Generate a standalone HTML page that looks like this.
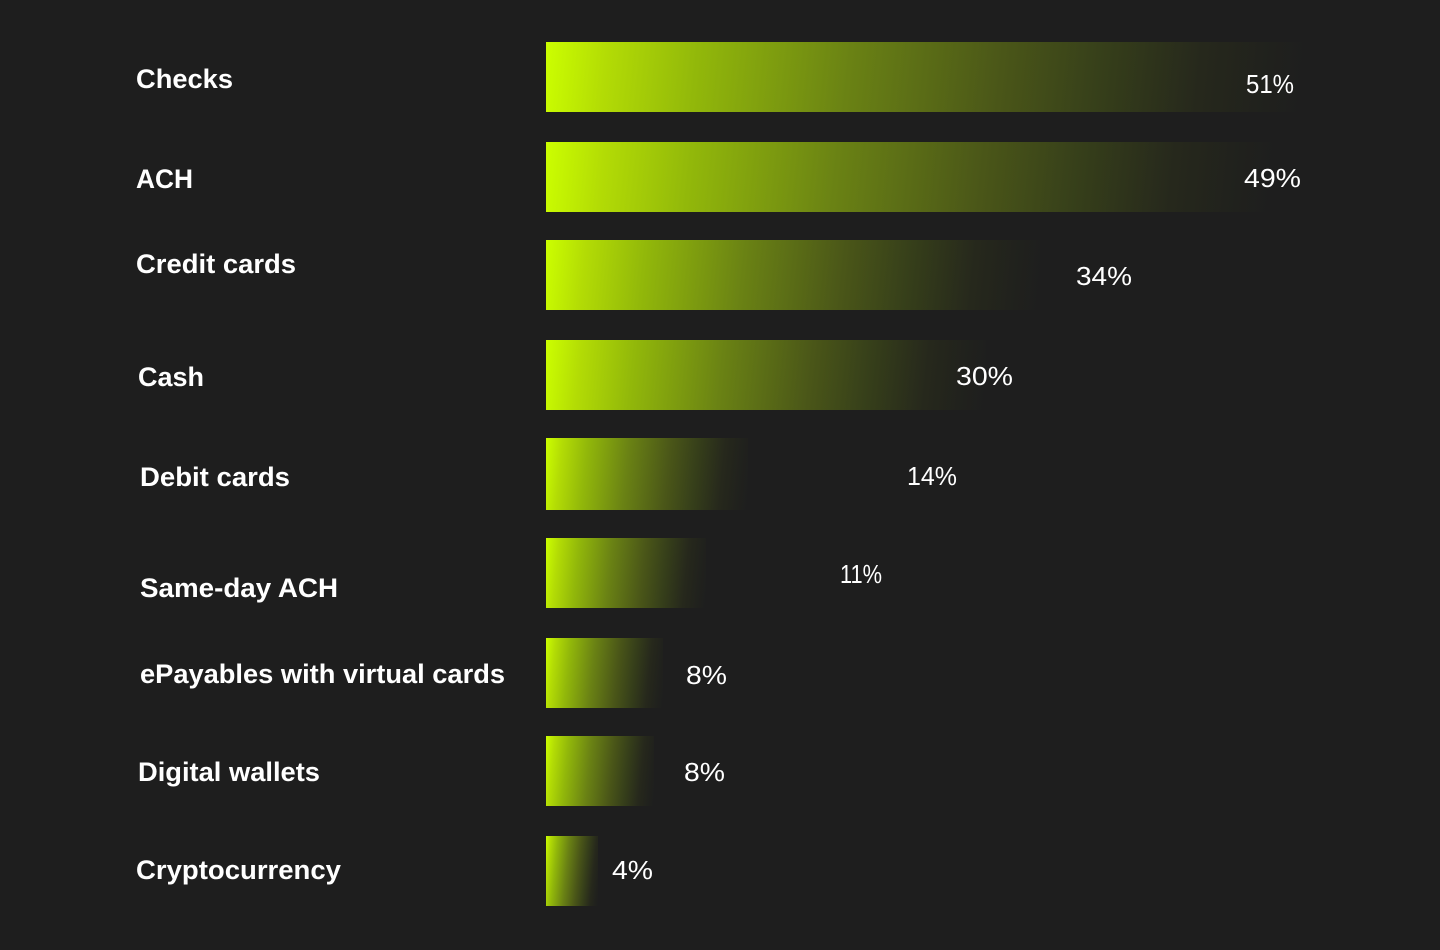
<!DOCTYPE html>
<html>
<head>
<meta charset="utf-8">
<style>
  html,body{margin:0;padding:0;background:#1e1e1e;}
  body{width:1440px;height:950px;position:relative;overflow:hidden;}
  .bar{position:absolute;left:546px;height:70px;
    background:linear-gradient(96deg,#ccff00 0%,#b3dc05 8%,#92b80a 20%,#6a8214 40%,#4a5618 60%,#363f1a 73%,#26281c 86%,#20211d 95%,#1e1e1e 100%);}
  svg{position:absolute;left:0;top:0;}
  .cat{font-family:"Liberation Sans",Arial,sans-serif;font-weight:bold;font-size:27px;fill:#ffffff;}
  .pct{font-family:"Liberation Sans",Arial,sans-serif;font-size:26px;fill:#ffffff;}
</style>
</head>
<body>
  <div class="bar" style="top:42px;width:757px;"></div>
  <div class="bar" style="top:142px;width:726px;"></div>
  <div class="bar" style="top:240px;width:494px;"></div>
  <div class="bar" style="top:340px;width:440px;"></div>
  <div class="bar" style="top:438px;width:202px;height:72px;"></div>
  <div class="bar" style="top:538px;width:160px;"></div>
  <div class="bar" style="top:638px;width:117px;"></div>
  <div class="bar" style="top:736px;width:108px;"></div>
  <div class="bar" style="top:836px;width:52px;"></div>

  <svg width="1440" height="950" viewBox="0 0 1440 950">
    <text class="cat" x="136" y="88" textLength="97" lengthAdjust="spacingAndGlyphs">Checks</text>
    <text class="cat" x="136" y="188" textLength="57" lengthAdjust="spacingAndGlyphs">ACH</text>
    <text class="cat" x="136" y="273" textLength="160" lengthAdjust="spacingAndGlyphs">Credit cards</text>
    <text class="cat" x="138" y="386" textLength="66" lengthAdjust="spacingAndGlyphs">Cash</text>
    <text class="cat" x="140" y="486" textLength="150" lengthAdjust="spacingAndGlyphs">Debit cards</text>
    <text class="cat" x="140" y="597" textLength="198" lengthAdjust="spacingAndGlyphs">Same-day ACH</text>
    <text class="cat" x="140" y="683" textLength="365" lengthAdjust="spacingAndGlyphs">ePayables with virtual cards</text>
    <text class="cat" x="138" y="781" textLength="182" lengthAdjust="spacingAndGlyphs">Digital wallets</text>
    <text class="cat" x="136" y="879" textLength="205" lengthAdjust="spacingAndGlyphs">Cryptocurrency</text>

    <text class="pct" x="1246" y="93" textLength="48" lengthAdjust="spacingAndGlyphs">51%</text>
    <text class="pct" x="1244" y="187" textLength="57" lengthAdjust="spacingAndGlyphs">49%</text>
    <text class="pct" x="1076" y="285" textLength="56" lengthAdjust="spacingAndGlyphs">34%</text>
    <text class="pct" x="956" y="385" textLength="57" lengthAdjust="spacingAndGlyphs">30%</text>
    <text class="pct" x="907" y="485" textLength="50" lengthAdjust="spacingAndGlyphs">14%</text>
    <text class="pct" x="840" y="583" textLength="42" lengthAdjust="spacingAndGlyphs">11%</text>
    <text class="pct" x="686" y="684" textLength="41" lengthAdjust="spacingAndGlyphs">8%</text>
    <text class="pct" x="684" y="781" textLength="41" lengthAdjust="spacingAndGlyphs">8%</text>
    <text class="pct" x="612" y="879" textLength="41" lengthAdjust="spacingAndGlyphs">4%</text>
  </svg>
</body>
</html>
